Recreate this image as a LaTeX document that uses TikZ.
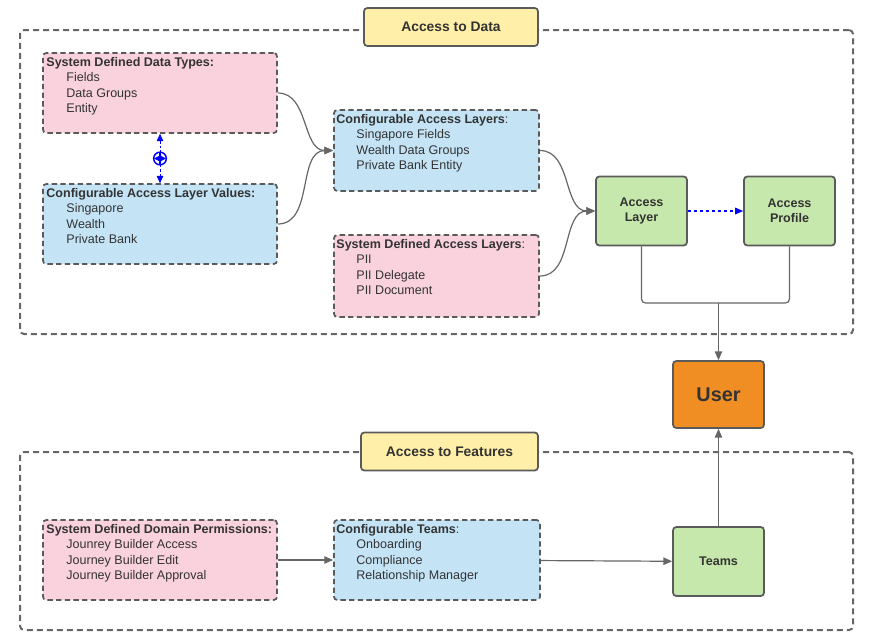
\documentclass[tikz,border=0pt]{standalone}
\usepackage{fontspec}
\setmainfont{Liberation Sans}
\usetikzlibrary{arrows.meta,positioning}
\definecolor{pinkfill}{HTML}{F9D2DE}
\definecolor{bluefill}{HTML}{C4E4F6}
\definecolor{greenfill}{HTML}{C7E8AC}
\definecolor{orangefill}{HTML}{F08E24}
\definecolor{yellowfill}{HTML}{FFEFA8}
\definecolor{bordergray}{HTML}{5A5A5A}
\definecolor{linegray}{HTML}{666666}
\definecolor{txtgray}{HTML}{333333}
\newcommand{\ind}{\hspace*{15pt}}
\tikzset{
  blk/.style={draw=bordergray,line width=1.3pt,rounded corners=2.5pt,inner sep=0pt,text=txtgray},
  listblk/.style={blk,dash pattern=on 4pt off 2.5pt,minimum width=175.5pt,minimum height=60pt},
  pinkblk/.style={listblk,fill=pinkfill},
  blueblk/.style={listblk,fill=bluefill},
  grnblk/.style={blk,fill=greenfill,minimum width=68.25pt,minimum height=51.75pt,align=center,font=\bfseries\fontsize{9.4}{11.25}\selectfont},
  usrblk/.style={blk,fill=orangefill,minimum width=68.25pt,minimum height=50.25pt,font=\bfseries\fontsize{14.9}{16}\selectfont},
  ttlblk/.style={blk,fill=yellowfill,minimum width=130.5pt,minimum height=28.5pt,font=\bfseries\fontsize{10.4}{12}\selectfont},
  frm/.style={draw=linegray,line width=1.5pt,dash pattern=on 4.5pt off 3pt,rounded corners=3pt,minimum width=624.75pt,inner sep=0pt},
  lst/.style={anchor=north west,inner sep=0pt,align=left,text=txtgray,font=\fontsize{9.4}{11.5}\selectfont},
  arr/.style={-{Triangle[length=6.5pt,width=5.5pt]},draw=linegray,line width=0.9pt},
  dotarr/.style={-{Triangle[length=6pt,width=5pt]},draw=blue,line width=0.9pt,dash pattern=on 2.5pt off 2pt},
  plusarr/.style={{Triangle[length=5.5pt,width=5pt]}-{Triangle[length=5.5pt,width=5pt]},draw=blue,line width=0.5pt,dash pattern=on 2pt off 1.5pt},
  plusnode/.style={circle,solid,draw=blue,fill=white,line width=1.1pt,minimum size=9.5pt,inner sep=0pt,
    path picture={\draw[blue,solid,line width=1.1pt] (path picture bounding box.north) -- (path picture bounding box.south)
      (path picture bounding box.west) -- (path picture bounding box.east);}}
}
\begin{document}
\begin{tikzpicture}[x=0.75pt,y=-0.75pt]
  \useasboundingbox (0,0) rectangle (871,637);

  % frames
  \node[frm,minimum height=228pt] (dataframe) at (436.5,182) {};
  \node[frm,minimum height=133.5pt] (featframe) at (436.5,541) {};
  \node[ttlblk] (datattl) at (451,27) {Access to Data};
  \node[ttlblk,minimum width=132.75pt] (featttl) at (449.5,451.5) {Access to Features};

  % access to data
  \node[pinkblk] (pdt) at (160,93) {};
  \node[lst] at ([shift={(4,5)}]pdt.north west) {\textbf{System Defined Data Types:}\\\ind Fields\\\ind Data Groups\\\ind Entity};
  \node[blueblk] (calv) at (160,224) {};
  \node[lst] at ([shift={(4,5)}]calv.north west) {\textbf{Configurable Access Layer Values:}\\\ind Singapore\\\ind Wealth\\\ind Private Bank};
  \node[blueblk,minimum width=153.75pt,minimum height=60.75pt] (cal) at (436.5,150.5) {};
  \node[lst] at ([shift={(3,5)}]cal.north west) {\textbf{Configurable Access Layers}:\\\ind Singapore Fields\\\ind Wealth Data Groups\\\ind Private Bank Entity};
  \node[pinkblk,minimum width=153.75pt,minimum height=61.5pt] (sdal) at (436.5,276) {};
  \node[lst] at ([shift={(3,5)}]sdal.north west) {\textbf{System Defined Access Layers}:\\\ind PII\\\ind PII Delegate\\\ind PII Document};
  \node[grnblk] (alayer) at (641.5,211) {Access\\Layer};
  \node[grnblk] (aprof) at (789.5,211) {Access\\Profile};

  \node[usrblk] (user) at (718.5,394.5) {User};

  % access to features
  \node[pinkblk] (sddp) at (160,560) {};
  \node[lst] at ([shift={(4,5)}]sddp.north west) {\textbf{System Defined Domain Permissions:}\\\ind Jounrey Builder Access\\\ind Journey Builder Edit\\\ind Journey Builder Approval};
  \node[blueblk,minimum width=154.5pt] (cteams) at (437,560) {};
  \node[lst] at ([shift={(3,5)}]cteams.north west) {\textbf{Configurable Teams}:\\\ind Onboarding\\\ind Compliance\\\ind Relationship Manager};
  \node[grnblk] (teams) at (718.5,561.5) {Teams};

  \draw[plusarr] (pdt.south) -- node[plusnode] (plus) {} (calv.north);
  \draw[arr] (pdt.east) to[out=0,in=180] (cal.west);
  \draw[arr] (calv.east) to[out=0,in=180] (cal.west);
  \draw[arr] (cal.east) to[out=0,in=180] (alayer.west);
  \draw[arr] (sdal.east) to[out=0,in=180] (alayer.west);
  \draw[dotarr] (alayer) -- (aprof);

  \coordinate (merge) at (718.5,303);
  \draw[draw=linegray,line width=0.9pt,rounded corners=3pt] (alayer.south) |- (merge) -| (aprof.south);
  \draw[arr] (merge) -- (user.north);
  \draw[arr] (teams.north) -- (user.south);
  \draw[arr] (sddp) -- (cteams);
  \draw[arr] (cteams) -- (teams);
\end{tikzpicture}
\end{document}
